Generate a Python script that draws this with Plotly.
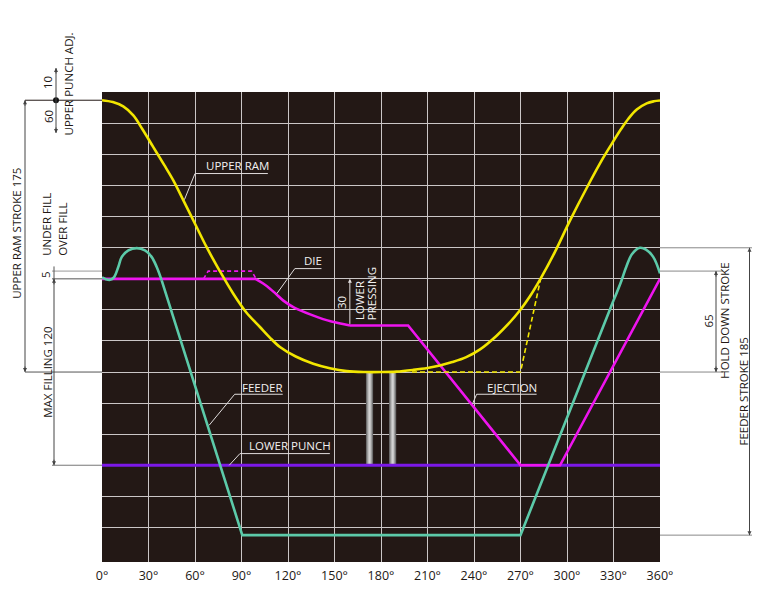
import plotly.graph_objects as go

# ---------------- data ----------------
DEG_TICKS = list(range(0, 361, 30))
DEG_TEXT = [f"{d}°" for d in DEG_TICKS]
GRID_Y = list(range(20, 301, 20))

# Upper ram (solid)
RAM_X = [0, 7, 13.7, 20.2, 26, 33.1, 40, 46, 52.5, 60, 67.5, 76, 84.7, 93, 101.9, 108, 114.8,
         125, 136.3, 147, 157.9, 170, 180, 190, 200.9, 210, 218, 226, 235, 243.9, 254.6, 262,
         269.7, 276, 282.6, 292.3, 301.9, 312.7, 323.4, 329.9, 335, 339.6, 345, 351.4, 356, 360]
RAM_Y = [295, 293.8, 291, 285.2, 276.5, 264.8, 253.5, 243.4, 230.5, 215.5, 200.4, 185, 170.4, 158.5,
         149, 142.5, 136.1, 130, 125.4, 122.5, 120.6, 120, 120, 120.3, 121.4, 122.6, 124.2, 126.4,
         129.6, 134.6, 143.4, 150.8, 159.8, 168.6, 179.5, 197.5, 217.5, 238.5, 258, 268.6, 276.6,
         283.1, 289, 293, 294.3, 294.8]
# Upper ram hold-down (dashed)
RAM_HOLD_X = [200, 270, 283]
RAM_HOLD_Y = [120, 120, 180]

# Die
DIE_FLAT_X = [0, 99]
DIE_FLAT_Y = [180, 180]
DIE_DROP_X = [99, 104, 108, 112, 117, 124, 136, 148, 160]
DIE_DROP_Y = [180, 177, 174, 170.5, 166, 161.5, 156.5, 152.5, 150]
DIE_EJECT_X = [160, 197.5, 270, 295.5, 360]
DIE_EJECT_Y = [150, 150, 60, 60, 180]
DIE_OVER_X = [65.5, 68.5, 96.5, 99.5]
DIE_OVER_Y = [180, 185, 185, 180]

# Feeder
FEED_HUMP_X = [0, 2.5, 5.2, 7.7, 10.5, 12.7, 17, 22.4, 27.7, 32.1, 35.3, 38.5]
FEED_HUMP_Y = [181, 179.8, 179.4, 181, 187.6, 194, 198.3, 199.8, 198.3, 194, 187.6, 179]
FEED_MAIN_X = [38.5, 90.5, 270, 330]
FEED_MAIN_Y = [179, 15, 15, 166]
FEED_PEAK_X = [330, 335, 338.5, 342, 347, 351, 355.7, 360]
FEED_PEAK_Y = [166, 178.5, 188.5, 196, 200, 198.8, 194, 183.5]

# Lower punch
PUNCH_X = [0, 360]
PUNCH_Y = [60, 60]

# Lower pressing pins (gray bars)
PIN_X = [172.6, 187.5]
PIN_BOTTOM = [60, 60]
PIN_TOP = [120, 120]

# ---------------- geometry helpers ----------------
# The page body has an 8px margin, so the figure is sized/placed to compensate.
OFF = 8
PAGE_L, PAGE_R, PAGE_T, PAGE_B = 102, 660, 92, 562   # plot area in page pixels
W, H = 760 - OFF, 590
L, T = PAGE_L - OFF, PAGE_T - OFF
R = W - (PAGE_R - OFF)
B = H - (PAGE_B - OFF)
PW, PH = PAGE_R - PAGE_L, PAGE_B - PAGE_T
Y0, Y1 = -2.3, 300.3
PXU = PH / (Y1 - Y0)

DARK = "#231815"
FONT = "Open Sans, Noto Sans, DejaVu Sans, sans-serif"


def fx(px):
    return (px - PAGE_L) / PW


def fy(v):
    return (v - Y0) / (Y1 - Y0)


def fy_px(py):
    return (PAGE_B - py) / PH


YELLOW = "#f2e600"
TEAL = "#5ccaa9"
MAGENTA = "#ee14ee"
PURPLE = "#7b18e8"
LEADER = "#e0dcdc"

fig = go.Figure()

# pins (layered for a cylinder look)
heights = [t - b for t, b in zip(PIN_TOP, PIN_BOTTOM)]
for w, c in [(4.6, "#6e6e6e"), (3.2, "#9c9c9c"), (1.5, "#d2d2d2")]:
    fig.add_trace(go.Bar(x=PIN_X, y=heights, base=PIN_BOTTOM, width=w,
                         marker=dict(color=c, line=dict(width=0)), hoverinfo="skip"))

fig.add_trace(go.Scatter(x=PUNCH_X, y=PUNCH_Y, mode="lines", line=dict(color=PURPLE, width=3)))

fig.add_trace(go.Scatter(x=DIE_OVER_X, y=DIE_OVER_Y, mode="lines",
                         line=dict(color=MAGENTA, width=1.6, dash="4px,3px")))
fig.add_trace(go.Scatter(x=DIE_FLAT_X, y=DIE_FLAT_Y, mode="lines", line=dict(color=MAGENTA, width=2.6)))
fig.add_trace(go.Scatter(x=DIE_DROP_X, y=DIE_DROP_Y, mode="lines",
                         line=dict(color=MAGENTA, width=2.6, shape="spline")))
fig.add_trace(go.Scatter(x=DIE_EJECT_X, y=DIE_EJECT_Y, mode="lines", line=dict(color=MAGENTA, width=2.6)))

fig.add_trace(go.Scatter(x=RAM_HOLD_X, y=RAM_HOLD_Y, mode="lines",
                         line=dict(color=YELLOW, width=1.6, dash="5px,3px")))
fig.add_trace(go.Scatter(x=RAM_X, y=RAM_Y, mode="lines",
                         line=dict(color=YELLOW, width=2.6, shape="spline")))

fig.add_trace(go.Scatter(x=FEED_HUMP_X, y=FEED_HUMP_Y, mode="lines",
                         line=dict(color=TEAL, width=2.6, shape="spline")))
fig.add_trace(go.Scatter(x=FEED_MAIN_X, y=FEED_MAIN_Y, mode="lines", line=dict(color=TEAL, width=2.6)))
fig.add_trace(go.Scatter(x=FEED_PEAK_X, y=FEED_PEAK_Y, mode="lines",
                         line=dict(color=TEAL, width=2.6, shape="spline")))

shapes = []
annotations = []


def leader(x_under0, x_under1, y_under, x_end, y_end):
    shapes.append(dict(type="line", xref="x", yref="y", x0=x_under0, x1=x_under1, y0=y_under, y1=y_under,
                       line=dict(color=LEADER, width=1)))
    shapes.append(dict(type="line", xref="x", yref="y", x0=x_under0, x1=x_end, y0=y_under, y1=y_end,
                       line=dict(color=LEADER, width=1)))


def label(text, x, y, size=11.5):
    annotations.append(dict(xref="x", yref="y", x=x, y=y, text=text, showarrow=False,
                            xanchor="center", yanchor="middle",
                            font=dict(color="#f2f0f0", size=size, family=FONT)))


# in-plot labels with leader lines
leader(60.0, 107.0, 247.8, 53.2, 231.0)
label("UPPER RAM", 87.3, 252.8)
leader(124.4, 141.6, 186.6, 112.8, 170.5)
label("DIE", 136.4, 192.0)
leader(85.6, 116.6, 105.7, 69.1, 85.7)
label("FEEDER", 103.5, 110.2)
leader(89.0, 147.0, 67.5, 82.1, 60)
label("LOWER PUNCH", 121.3, 72.9)
leader(241.7, 280.4, 105.7, 239.1, 99.7)
label("EJECTION", 264.8, 110.2)

# lower pressing dimension
annotations.append(dict(xref="x", yref="y", x=159.9, y=180, ax=0, ay=30 * PXU, axref="pixel", ayref="pixel",
                        showarrow=True, arrowhead=2, arrowsize=0.8, arrowwidth=1, arrowcolor=LEADER,
                        text="", standoff=0))
for txt, xx, yy, ya in [("30", 155.0, 164.6, "middle"), ("LOWER", 166.6, 152.0, "bottom"),
                        ("PRESSING", 174.4, 152.0, "bottom")]:
    annotations.append(dict(xref="x", yref="y", x=xx, y=yy, text=txt, textangle=-90, showarrow=False,
                            xanchor="center", yanchor=ya, font=dict(color="#f2f0f0", size=11.5, family=FONT)))


# outside dimension lines
def hline(v, px0, px1, color="#555555"):
    shapes.append(dict(type="line", xref="paper", yref="paper", x0=fx(px0), x1=fx(px1), y0=fy(v), y1=fy(v),
                       line=dict(color=color, width=1)))


def vline(px, v0, v1, color="#555555"):
    shapes.append(dict(type="line", xref="paper", yref="paper", x0=fx(px), x1=fx(px), y0=fy(v0), y1=fy(v1),
                       line=dict(color=color, width=1)))


def head(px, yv, ay, color="#444444"):
    annotations.append(dict(xref="paper", yref="paper", x=fx(px), y=yv, ax=0, ay=ay,
                            axref="pixel", ayref="pixel", showarrow=True, arrowhead=2, arrowsize=0.8,
                            arrowwidth=1, arrowcolor=color, text="", standoff=0))


def dim(px, v_top, v_bot, color="#444444"):
    vline(px, v_top, v_bot, color)
    head(px, fy(v_top), 7, color)
    head(px, fy(v_bot), -7, color)


def vtext(text, px, yv, yanchor="middle", size=11.5):
    annotations.append(dict(xref="paper", yref="paper", x=fx(px), y=yv, text=text, textangle=-90,
                            showarrow=False, xanchor="center", yanchor=yanchor,
                            font=dict(color=DARK, size=size, family=FONT)))


RAM_TOP, RAM_BOT = 295, 120
DIE_LEVEL, OVER_LEVEL = 180, 185
FEED_TOP, FEED_BOT = 200, 15

# upper punch adj
hline(RAM_TOP, 25, 102, "#231815")
shapes.append(dict(type="circle", xref="paper", yref="paper", x0=fx(53), x1=fx(59),
                   y0=fy(RAM_TOP) - 3 / PH, y1=fy(RAM_TOP) + 3 / PH,
                   fillcolor="#111111", line=dict(color="#111111", width=0)))
shapes.append(dict(type="line", xref="paper", yref="paper", x0=fx(56), x1=fx(56), y0=fy_px(68),
                   y1=fy_px(133), line=dict(color="#444444", width=1)))
head(56, fy_px(68), 7)
head(56, fy_px(133), -7)
vtext("10", 48, fy_px(83))
vtext("60", 48, fy_px(117))
vtext("UPPER PUNCH ADJ.", 68, fy_px(84.5))

# upper ram stroke
dim(25, RAM_TOP, RAM_BOT)
hline(RAM_BOT, 25, 102, "#555555")
vtext("UPPER RAM STROKE 175", 17, fy(209))

# under / over fill
hline(OVER_LEVEL, 52, 102, "#9a9a9a")
hline(DIE_LEVEL, 52, 102, "#555555")
vline(54, OVER_LEVEL + 3, DIE_LEVEL - 1, "#555555")
vtext("5", 46, fy(182.5))
vtext("UNDER FILL", 47, fy(193.2), yanchor="bottom")
vtext("OVER FILL", 63, fy(193.2), yanchor="bottom")

# max filling
dim(54, DIE_LEVEL, PUNCH_Y[0])
hline(PUNCH_Y[0], 52, 102, "#777777")
vtext("MAX FILLING 120", 46.7, fy(120))

# right side: feeder stroke
hline(FEED_TOP, 660, 754, "#888888")
hline(FEED_BOT, 660, 754, "#888888")
dim(749.5, FEED_TOP, FEED_BOT)
vtext("FEEDER STROKE 185", 743, fy((FEED_TOP + FEED_BOT) / 2))

# hold down stroke
hline(OVER_LEVEL, 660, 723, "#888888")
hline(RAM_BOT, 660, 723, "#888888")
dim(716, OVER_LEVEL, RAM_BOT)
vtext("65", 709, fy(152.5))
vtext("HOLD DOWN STROKE", 724.5, fy(153.3))

fig.update_layout(
    width=W, height=H,
    margin=dict(l=L, r=R, t=T, b=B, pad=0),
    paper_bgcolor="white",
    plot_bgcolor=DARK,
    showlegend=False,
    barmode="overlay",
    shapes=shapes,
    annotations=annotations,
    font=dict(family=FONT, color=DARK),
    xaxis=dict(range=[0, 360], tickvals=DEG_TICKS, ticktext=DEG_TEXT, showgrid=True,
               gridcolor="#cbc6c6", gridwidth=1, zeroline=False, showline=False, ticks="",
               ticklabelstandoff=4,
               tickfont=dict(size=12.5, color=DARK, family=FONT), fixedrange=True),
    yaxis=dict(range=[Y0, Y1], tickvals=GRID_Y, showticklabels=False, showgrid=True,
               gridcolor="#cbc6c6", gridwidth=1, zeroline=False, showline=False, ticks="",
               fixedrange=True),
)

fig.write_html("out.html")
